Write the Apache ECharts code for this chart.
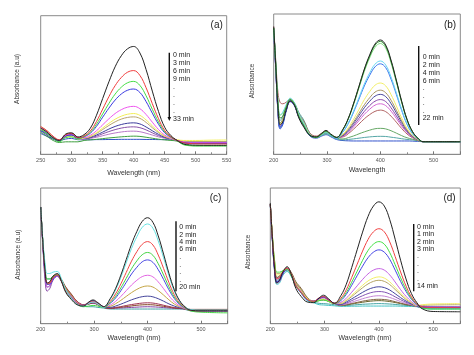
<!DOCTYPE html>
<html><head><meta charset="utf-8">
<script src="https://cdn.jsdelivr.net/npm/echarts@6/dist/echarts.min.js"></script>
<style>html,body{margin:0;padding:0;background:#fff}#c{width:474px;height:355px}</style>
</head><body><div id="c"></div>
<script>
// ---------- Panel (a) ----------
const waveA = [250,260,270,280,290,300,310,320,330,340,350,360,370,380,390,400,410,420,430,440,450,460,470,480,490,500,525,550];
const A0 = [0.19,0.16,0.12,0.10,0.145,0.155,0.125,0.142,0.188,0.282,0.403,0.523,0.631,0.711,0.761,0.778,0.731,0.611,0.456,0.309,0.195,0.135,0.10,0.075,0.068,0.066,0.065,0.065];
const A1 = [0.20,0.17,0.13,0.105,0.14,0.15,0.12,0.133,0.168,0.237,0.326,0.416,0.495,0.554,0.592,0.604,0.569,0.48,0.366,0.257,0.172,0.128,0.10,0.085,0.078,0.076,0.075,0.075];
const A2 = [0.18,0.15,0.115,0.09,0.12,0.125,0.11,0.129,0.158,0.217,0.292,0.367,0.434,0.484,0.516,0.526,0.497,0.422,0.325,0.233,0.162,0.125,0.098,0.07,0.062,0.06,0.06,0.06];
const A3 = [0.17,0.15,0.115,0.095,0.13,0.14,0.115,0.126,0.152,0.202,0.268,0.333,0.391,0.435,0.462,0.471,0.446,0.38,0.297,0.217,0.155,0.123,0.10,0.085,0.08,0.08,0.08,0.08];
const A4 = [0.19,0.16,0.12,0.10,0.135,0.145,0.12,0.12,0.137,0.17,0.213,0.256,0.294,0.322,0.34,0.346,0.329,0.287,0.232,0.179,0.139,0.118,0.10,0.09,0.085,0.085,0.085,0.085];
const A5 = [0.18,0.15,0.115,0.095,0.125,0.13,0.11,0.117,0.13,0.156,0.19,0.223,0.253,0.275,0.289,0.294,0.281,0.248,0.205,0.164,0.132,0.115,0.105,0.10,0.10,0.10,0.102,0.103];
const A6 = [0.20,0.17,0.13,0.10,0.14,0.15,0.12,0.116,0.127,0.15,0.179,0.208,0.234,0.254,0.266,0.27,0.259,0.23,0.192,0.157,0.129,0.114,0.10,0.095,0.093,0.092,0.092,0.092];
const A7 = [0.17,0.14,0.11,0.095,0.13,0.14,0.115,0.114,0.122,0.139,0.16,0.182,0.201,0.215,0.224,0.227,0.219,0.197,0.17,0.144,0.123,0.113,0.10,0.085,0.08,0.078,0.078,0.078];
const A8 = [0.18,0.15,0.12,0.10,0.13,0.14,0.115,0.113,0.119,0.131,0.148,0.164,0.178,0.189,0.196,0.198,0.192,0.176,0.155,0.135,0.12,0.112,0.10,0.085,0.08,0.08,0.08,0.08];
const A9 = [0.19,0.16,0.12,0.10,0.125,0.13,0.11,0.111,0.115,0.123,0.134,0.145,0.154,0.161,0.166,0.167,0.163,0.152,0.139,0.126,0.116,0.11,0.10,0.09,0.088,0.088,0.088,0.088];
const A10 = [0.16,0.13,0.10,0.085,0.09,0.09,0.09,0.10,0.104,0.108,0.113,0.118,0.122,0.126,0.129,0.131,0.129,0.123,0.116,0.109,0.104,0.10,0.095,0.075,0.065,0.062,0.062,0.062];
const A11 = [0.15,0.13,0.11,0.10,0.11,0.115,0.105,0.105,0.105,0.106,0.106,0.107,0.107,0.108,0.108,0.108,0.108,0.107,0.107,0.106,0.106,0.105,0.10,0.09,0.09,0.09,0.09,0.09];
const colorsA = ['#222222','#f03c3c','#44dd44','#3838e0','#ee55ee','#f2ee55','#b8a46c','#3c3c9c','#8850a8','#b878c8','#3f9f3f','#2f52c8'];
const ticksA = [250,300,350,400,450,500,550];
const legendA = ['0 min','3 min','6 min','9 min','.','.','.','.','33 min'];

// ---------- Panels (b), (c), (d) share wavelength grid ----------
const waveBCD = [200,204,208,212,217,223,231,239,247,257,268,280,290,298,307,318,330,340,350,360,370,380,390,400,410,420,430,440,450,460,470,480,500,550];

// ---------- Panel (b) ----------
const B0 = [0.91,0.62,0.33,0.21,0.23,0.31,0.38,0.35,0.26,0.19,0.135,0.125,0.15,0.17,0.145,0.12,0.179,0.257,0.365,0.486,0.608,0.708,0.786,0.815,0.779,0.672,0.529,0.379,0.25,0.164,0.116,0.09,0.09,0.09];
const B1 = [0.90,0.63,0.36,0.26,0.27,0.33,0.39,0.355,0.27,0.20,0.135,0.12,0.145,0.165,0.14,0.12,0.178,0.255,0.361,0.481,0.601,0.699,0.777,0.805,0.77,0.664,0.523,0.375,0.248,0.163,0.116,0.09,0.09,0.09];
const B2 = [0.90,0.64,0.38,0.28,0.29,0.34,0.395,0.36,0.28,0.21,0.14,0.12,0.14,0.16,0.14,0.12,0.176,0.252,0.355,0.473,0.59,0.687,0.762,0.79,0.756,0.652,0.514,0.369,0.245,0.162,0.116,0.09,0.09,0.09];
const B3 = [0.90,0.64,0.38,0.28,0.30,0.35,0.40,0.365,0.29,0.22,0.14,0.12,0.14,0.155,0.135,0.115,0.162,0.224,0.309,0.405,0.501,0.58,0.642,0.665,0.637,0.552,0.439,0.32,0.219,0.151,0.112,0.09,0.09,0.09];
const B4 = [0.89,0.60,0.31,0.19,0.22,0.31,0.385,0.35,0.27,0.205,0.135,0.12,0.14,0.155,0.135,0.115,0.16,0.22,0.302,0.394,0.487,0.563,0.623,0.645,0.618,0.536,0.427,0.313,0.214,0.149,0.111,0.09,0.09,0.09];
const B5 = [0.90,0.62,0.33,0.21,0.24,0.32,0.385,0.355,0.28,0.215,0.14,0.125,0.145,0.16,0.14,0.12,0.145,0.19,0.251,0.32,0.39,0.447,0.492,0.508,0.488,0.426,0.345,0.259,0.186,0.137,0.107,0.09,0.09,0.09];
const B6 = [0.90,0.62,0.34,0.22,0.25,0.33,0.385,0.36,0.29,0.23,0.145,0.125,0.145,0.16,0.14,0.12,0.139,0.179,0.232,0.293,0.353,0.403,0.443,0.457,0.439,0.386,0.314,0.239,0.175,0.132,0.106,0.09,0.09,0.09];
const B7 = [0.89,0.60,0.31,0.19,0.22,0.31,0.38,0.35,0.27,0.21,0.14,0.125,0.145,0.16,0.14,0.12,0.136,0.172,0.221,0.277,0.332,0.378,0.414,0.427,0.411,0.362,0.296,0.228,0.169,0.129,0.105,0.09,0.09,0.09];
const B8 = [0.89,0.60,0.31,0.195,0.225,0.31,0.38,0.35,0.27,0.21,0.14,0.125,0.145,0.16,0.14,0.12,0.132,0.164,0.207,0.257,0.306,0.347,0.378,0.39,0.376,0.332,0.274,0.213,0.161,0.126,0.104,0.09,0.09,0.09];
const B9 = [0.90,0.61,0.32,0.20,0.23,0.315,0.38,0.35,0.275,0.215,0.145,0.125,0.145,0.16,0.14,0.12,0.129,0.157,0.196,0.24,0.285,0.321,0.35,0.36,0.347,0.308,0.256,0.201,0.155,0.123,0.103,0.09,0.09,0.09];
const B10 = [0.91,0.66,0.44,0.37,0.36,0.37,0.39,0.36,0.29,0.23,0.15,0.13,0.15,0.165,0.14,0.12,0.124,0.147,0.18,0.216,0.253,0.283,0.306,0.315,0.304,0.272,0.229,0.184,0.145,0.119,0.101,0.09,0.09,0.09];
const B11 = [0.90,0.62,0.33,0.22,0.25,0.33,0.39,0.36,0.29,0.23,0.15,0.125,0.14,0.15,0.135,0.115,0.109,0.119,0.131,0.146,0.16,0.172,0.182,0.185,0.181,0.168,0.151,0.133,0.118,0.108,0.098,0.09,0.09,0.09];
const B12 = [0.90,0.63,0.35,0.24,0.27,0.34,0.395,0.365,0.30,0.24,0.15,0.125,0.135,0.145,0.13,0.11,0.103,0.106,0.11,0.115,0.12,0.124,0.127,0.128,0.127,0.122,0.117,0.111,0.106,0.103,0.097,0.09,0.09,0.09];
const B13 = [0.89,0.60,0.30,0.18,0.21,0.30,0.375,0.345,0.265,0.20,0.13,0.115,0.13,0.14,0.125,0.105,0.098,0.096,0.095,0.095,0.095,0.095,0.095,0.095,0.095,0.095,0.095,0.095,0.095,0.094,0.092,0.09,0.088,0.088];
const colorsB = ['#222222','#2a8a2a','#88e088','#66d4f2','#3a74ee','#f2ee66','#a89462','#44449a','#8848a8','#d466d4','#b06262','#66a866','#55a6a6','#3454cc'];
const ticksBCD = [200,300,400,500];
const legendB = ['0 min','2 min','4 min','6 min','.','.','.','.','22 min'];

// ---------- Panel (c) ----------
const C0 = [0.86,0.6,0.4,0.3,0.31,0.35,0.37,0.31,0.23,0.18,0.14,0.13,0.16,0.175,0.155,0.125,0.184,0.258,0.358,0.472,0.586,0.68,0.754,0.781,0.747,0.647,0.513,0.372,0.251,0.17,0.125,0.1,0.095,0.095];
const C1 = [0.86,0.62,0.45,0.37,0.37,0.38,0.385,0.33,0.25,0.19,0.145,0.13,0.15,0.16,0.145,0.12,0.179,0.248,0.341,0.448,0.554,0.641,0.71,0.735,0.704,0.61,0.485,0.354,0.241,0.166,0.124,0.105,0.1,0.1];
const C2 = [0.86,0.6,0.4,0.3,0.3,0.34,0.36,0.31,0.24,0.19,0.15,0.135,0.155,0.165,0.15,0.125,0.164,0.219,0.293,0.377,0.461,0.531,0.585,0.605,0.58,0.506,0.407,0.303,0.214,0.155,0.12,0.1,0.095,0.095];
const C3 = [0.86,0.61,0.42,0.33,0.33,0.35,0.36,0.31,0.24,0.19,0.145,0.125,0.13,0.135,0.13,0.12,0.156,0.201,0.264,0.334,0.405,0.463,0.508,0.525,0.504,0.442,0.359,0.272,0.197,0.147,0.117,0.095,0.085,0.08];
const C4 = [0.86,0.59,0.38,0.29,0.29,0.33,0.355,0.31,0.24,0.19,0.15,0.135,0.155,0.165,0.15,0.125,0.15,0.189,0.243,0.304,0.366,0.416,0.456,0.47,0.452,0.398,0.326,0.25,0.186,0.142,0.116,0.1,0.095,0.095];
const C5 = [0.86,0.59,0.37,0.27,0.28,0.33,0.35,0.31,0.245,0.2,0.155,0.135,0.15,0.16,0.145,0.125,0.137,0.164,0.201,0.243,0.285,0.32,0.347,0.357,0.345,0.308,0.258,0.206,0.162,0.132,0.112,0.1,0.095,0.095];
const C6 = [0.86,0.6,0.39,0.29,0.3,0.34,0.355,0.32,0.26,0.21,0.16,0.135,0.15,0.16,0.145,0.125,0.128,0.147,0.172,0.201,0.229,0.253,0.271,0.278,0.27,0.244,0.211,0.176,0.145,0.125,0.11,0.1,0.1,0.1];
const C7 = [0.86,0.59,0.37,0.27,0.28,0.33,0.35,0.31,0.25,0.2,0.155,0.135,0.155,0.17,0.15,0.125,0.12,0.13,0.144,0.16,0.176,0.189,0.199,0.203,0.198,0.184,0.166,0.146,0.13,0.118,0.11,0.1,0.1,0.1];
const C8 = [0.86,0.6,0.39,0.29,0.3,0.34,0.355,0.32,0.265,0.215,0.165,0.14,0.15,0.16,0.145,0.125,0.115,0.12,0.126,0.134,0.141,0.147,0.152,0.154,0.152,0.145,0.136,0.127,0.119,0.114,0.11,0.105,0.105,0.105];
const C9 = [0.86,0.6,0.39,0.29,0.3,0.34,0.36,0.325,0.27,0.22,0.165,0.14,0.145,0.155,0.14,0.12,0.113,0.117,0.121,0.126,0.131,0.136,0.139,0.14,0.139,0.134,0.128,0.122,0.116,0.113,0.11,0.105,0.105,0.105];
const C10 = [0.85,0.57,0.33,0.24,0.26,0.32,0.35,0.31,0.25,0.2,0.155,0.135,0.145,0.15,0.14,0.12,0.112,0.114,0.116,0.118,0.12,0.122,0.124,0.125,0.124,0.122,0.119,0.116,0.113,0.111,0.108,0.1,0.1,0.1];
const C11 = [0.86,0.61,0.42,0.33,0.33,0.35,0.36,0.32,0.26,0.21,0.16,0.13,0.125,0.125,0.12,0.115,0.108,0.108,0.108,0.108,0.108,0.108,0.108,0.108,0.108,0.108,0.108,0.108,0.108,0.108,0.105,0.095,0.09,0.09];
const colorsC = ['#222222','#66e2e2','#f04444','#44d444','#4444e2','#e266e2','#c4a444','#44449a','#a03454','#844422','#8444a4','#44a4a4'];
const legendC = ['0 min','2 min','4 min','6 min','.','.','.','.','20 min'];

// ---------- Panel (d) ----------
const D0 = [.89,.62,.40,.30,.32,.38,.42,.36,.26,.20,.16,.155,.19,.21,.185,.15,.207,.291,.414,.545,.675,.79,.867,.898,.867,.767,.622,.468,.33,.222,.155,.11,.09,.088];
const D1 = [.88,.62,.42,.33,.34,.38,.41,.36,.28,.23,.18,.165,.19,.2,.175,.15,.187,.25,.341,.438,.535,.62,.677,.70,.677,.603,.495,.381,.278,.198,.148,.125,.12,.12];
const D2 = [.88,.64,.46,.38,.38,.39,.40,.35,.28,.23,.18,.16,.17,.175,.165,.148,.178,.23,.306,.387,.467,.539,.586,.605,.586,.524,.434,.339,.254,.187,.144,.115,.108,.108];
const D3 = [.88,.61,.40,.31,.32,.37,.40,.355,.28,.225,.175,.165,.185,.195,.175,.15,.171,.217,.283,.354,.424,.486,.527,.544,.527,.474,.395,.312,.238,.18,.142,.125,.122,.122];
const D4 = [.88,.62,.42,.33,.34,.38,.405,.36,.285,.235,.18,.165,.185,.195,.175,.15,.158,.188,.232,.279,.326,.367,.395,.406,.395,.359,.307,.251,.202,.163,.136,.128,.125,.125];
const D5 = [.88,.64,.45,.36,.36,.385,.40,.36,.29,.24,.185,.165,.175,.18,.165,.15,.152,.175,.21,.246,.283,.315,.336,.345,.336,.308,.268,.225,.186,.156,.134,.14,.145,.148];
const D6 = [.88,.64,.46,.37,.37,.39,.405,.365,.30,.25,.19,.165,.175,.18,.165,.15,.149,.17,.2,.233,.265,.293,.312,.32,.312,.288,.252,.214,.179,.153,.133,.135,.138,.14];
const D7 = [.88,.61,.40,.31,.32,.37,.40,.355,.285,.23,.18,.165,.19,.2,.18,.15,.144,.16,.183,.207,.231,.252,.266,.272,.266,.248,.221,.192,.167,.147,.131,.125,.122,.12];
const D8 = [.88,.60,.38,.30,.31,.365,.40,.355,.285,.235,.18,.165,.185,.195,.175,.15,.141,.152,.17,.188,.206,.222,.233,.237,.233,.219,.198,.177,.158,.143,.13,.12,.118,.118];
const D9 = [.88,.61,.39,.31,.32,.37,.40,.36,.29,.24,.185,.165,.18,.19,.17,.15,.138,.146,.158,.171,.184,.195,.203,.206,.203,.193,.179,.163,.15,.139,.128,.12,.118,.118];
const D10 = [.88,.63,.43,.34,.35,.385,.41,.375,.31,.26,.195,.165,.175,.18,.165,.15,.135,.141,.149,.157,.166,.173,.178,.18,.178,.172,.162,.152,.143,.136,.128,.122,.12,.12];
const D11 = [.88,.63,.43,.34,.35,.38,.40,.37,.30,.25,.19,.165,.17,.175,.165,.15,.134,.138,.145,.152,.158,.164,.168,.17,.168,.163,.156,.148,.14,.135,.128,.122,.12,.12];
const D12 = [.88,.62,.41,.32,.33,.37,.395,.355,.285,.235,.18,.16,.15,.148,.145,.14,.132,.134,.137,.14,.143,.145,.147,.148,.147,.145,.142,.138,.135,.132,.127,.115,.11,.11];
const D13 = [.87,.60,.38,.29,.30,.355,.385,.345,.275,.225,.17,.155,.14,.138,.135,.132,.128,.128,.129,.129,.13,.13,.13,.13,.13,.13,.13,.129,.128,.127,.125,.115,.11,.11];
const colorsD = ['#222222','#f04040','#44e044','#4444e4','#c462e2','#f2ee66','#b4a464','#44449e','#8454b4','#c484d4','#846444','#66662a','#44a4a4','#44c4c4'];
const legendD = ['0 min','1 min','2 min','3 min','.','.','.','.','14 min'];

// ---------- Layout ----------
const FONT = '"Liberation Sans", Arial, sans-serif';
const panels = [
  {wave: waveA, curves: [A0,A1,A2,A3,A4,A5,A6,A7,A8,A9,A10,A11], colors: colorsA, min: 250, max: 550, interval: 50,
   grid: {left: 40.7, top: 15.7, width: 186, height: 138.6}},
  {wave: waveBCD, curves: [B0,B1,B2,B3,B4,B5,B6,B7,B8,B9,B10,B11,B12,B13], colors: colorsB, min: 200, max: 550, interval: 100,
   grid: {left: 273.7, top: 14, width: 186.6, height: 140.3}},
  {wave: waveBCD, curves: [C0,C1,C2,C3,C4,C5,C6,C7,C8,C9,C10,C11], colors: colorsC, min: 200, max: 550, interval: 100,
   grid: {left: 40.7, top: 188, width: 187, height: 135.7}},
  {wave: waveBCD, curves: [D0,D1,D2,D3,D4,D5,D6,D7,D8,D9,D10,D11,D12,D13], colors: colorsD, min: 200, max: 550, interval: 100,
   grid: {left: 270.3, top: 188, width: 190, height: 135.7}}
];

const grids = [], xAxes = [], yAxes = [], series = [];
panels.forEach((p, g) => {
  grids.push(Object.assign({show: true, borderColor: '#8a8a8a', borderWidth: 1, backgroundColor: '#fff'}, p.grid));
  xAxes.push({type: 'value', gridIndex: g, min: p.min, max: p.max, interval: p.interval,
    axisLine: {show: true, lineStyle: {color: '#8a8a8a', width: 1}},
    axisTick: {show: true, inside: true, length: 3, lineStyle: {color: '#777'}},
    minorTick: {show: true, splitNumber: 2, length: 2, lineStyle: {color: '#888'}},
    splitLine: {show: false},
    axisLabel: {fontSize: 5.5, color: '#555', margin: 3, fontFamily: FONT, showMaxLabel: g === 0}});
  yAxes.push({type: 'value', gridIndex: g, min: 0, max: 1, axisLine: {show: false}, axisTick: {show: false},
    axisLabel: {show: false}, splitLine: {show: false}});
  for (let i = p.curves.length - 1; i >= 0; i--) {
    series.push({type: 'line', xAxisIndex: g, yAxisIndex: g, symbol: 'none', smooth: 0.4, silent: true,
      lineStyle: {width: 1, color: p.colors[i]},
      data: p.wave.map((w, k) => [w, p.curves[i][k]])});
  }
});

// ---------- Annotations ----------
const graphic = [];
function txt(x, y, s, size, extra) {
  graphic.push(Object.assign({type: 'text', x: x, y: y, silent: true,
    style: Object.assign({text: s, font: size + 'px ' + FONT, fill: '#333', align: 'center', verticalAlign: 'middle'}, extra || {})}));
}
function rtxt(x, y, s, size) {
  graphic.push({type: 'text', x: x, y: y, rotation: Math.PI / 2, silent: true,
    style: {text: s, font: size + 'px ' + FONT, fill: '#333', align: 'center', verticalAlign: 'middle'}});
}
function legend(xLine, y0, y1, xText, rows, labels, arrow) {
  graphic.push({type: 'line', silent: true, shape: {x1: xLine, y1: y0, x2: xLine, y2: y1}, style: {stroke: '#111', lineWidth: 1.4}});
  if (arrow) graphic.push({type: 'polygon', silent: true, shape: {points: [[xLine - 1.8, y1 - 1], [xLine + 1.8, y1 - 1], [xLine, y1 + 3]]}, style: {fill: '#111'}});
  labels.forEach((s, k) => txt(xText, rows[k], s, 7, {align: 'left', fill: '#222'}));
}
legend(169.3, 52.7, 118, 173, [55,62.7,70.7,78.7,86.7,94.7,102.7,110.7,118.7], legendA, true);
legend(418.7, 46, 125, 422.7, [56.7,64.7,72.7,80.7,88.2,95.7,103.2,110.7,118.3], legendB, false);
legend(176, 221.3, 291.3, 179.3, [227.3,234.7,242,249.3,257,264.6,272.2,279.8,287.3], legendC, false);
legend(413.7, 224, 291.3, 417, [227.3,234.5,241.6,248.7,256.2,263.7,271.2,278.7,286.3], legendD, false);

txt(216.7, 25, '(a)', 10, {fill: '#222'});
txt(450, 25, '(b)', 10, {fill: '#222'});
txt(215.5, 198, '(c)', 10, {fill: '#222'});
txt(449.5, 198, '(d)', 10, {fill: '#222'});

txt(133.7, 172.7, 'Wavelength (nm)', 7);
txt(367, 170, 'Wavelength', 7);
txt(134, 338, 'Wavelength (nm)', 7);
txt(365, 338, 'Wavelength (nm)', 7);

rtxt(17, 79, 'Absorbance (a.u)', 6.5);
rtxt(252, 81, 'Absorbance', 6.5);
rtxt(18.3, 254.7, 'Absorbance (a.u)', 6.5);
rtxt(248.7, 252, 'Absorbance', 6.5);

const chart = echarts.init(document.getElementById('c'), null, {renderer: 'canvas'});
chart.setOption({animation: false, backgroundColor: '#fff', grid: grids, xAxis: xAxes, yAxis: yAxes, series: series, graphic: graphic});
</script></body></html>
